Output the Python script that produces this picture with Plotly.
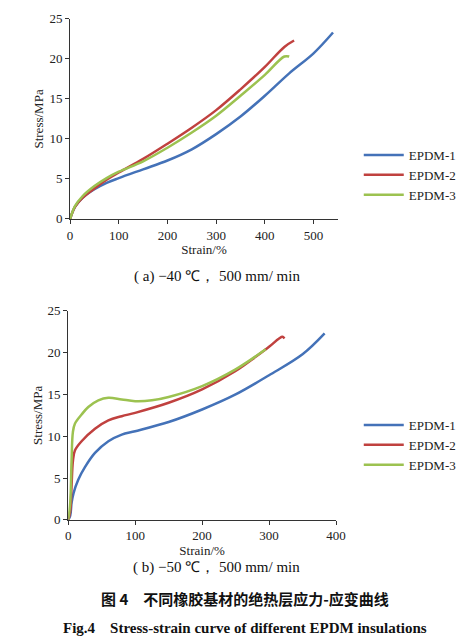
import plotly.graph_objects as go

names = ["EPDM-1", "EPDM-2", "EPDM-3"]
colors = ["#4472b8", "#c0413f", "#9cc250"]

a_x = [
    [0, 10, 25, 50, 75, 100, 150, 200, 250, 300, 350, 400, 450, 500, 540],
    [0, 10, 25, 50, 75, 100, 150, 200, 250, 300, 350, 400, 440, 460],
    [0, 10, 25, 50, 75, 100, 150, 200, 250, 300, 350, 400, 440, 450],
]
a_y = [
    [0, 1.5, 2.6, 3.7, 4.5, 5.1, 6.2, 7.3, 8.7, 10.6, 12.8, 15.4, 18.2, 20.7, 23.3],
    [0, 1.5, 2.6, 3.8, 4.9, 5.8, 7.5, 9.4, 11.4, 13.6, 16.2, 19.0, 21.5, 22.3],
    [0, 1.6, 2.8, 4.1, 5.1, 5.9, 7.2, 8.9, 10.8, 12.9, 15.4, 18.0, 20.3, 20.3],
]
b_x = [
    [0, 3, 5, 8, 15, 25, 40, 60, 80, 100, 150, 200, 250, 300, 350, 383],
    [0, 3, 5, 7, 10, 20, 40, 60, 80, 100, 150, 200, 250, 280, 300, 315, 320, 323],
    [0, 3, 5, 7, 10, 20, 30, 45, 60, 80, 100, 125, 150, 200, 250, 295],
]
b_y = [
    [0, 0.5, 2, 3.2, 4.8, 6.3, 8, 9.4, 10.2, 10.6, 11.7, 13.2, 15, 17.3, 19.8, 22.3],
    [0, 1, 4, 7, 8.3, 9.4, 10.9, 11.9, 12.4, 12.8, 14.0, 15.6, 17.8, 19.5, 20.7, 21.7, 21.9, 21.7],
    [0, 2, 7, 10.5, 11.5, 12.6, 13.5, 14.3, 14.6, 14.4, 14.2, 14.3, 14.7, 16.0, 18.0, 20.4],
]

F = "Liberation Serif"
fig = go.Figure()
for i in range(3):
    fig.add_trace(go.Scatter(x=a_x[i], y=a_y[i], name=names[i], mode="lines", line=dict(color=colors[i], width=2.5, shape="spline"), xaxis="x", yaxis="y", legend="legend"))
for i in range(3):
    fig.add_trace(go.Scatter(x=b_x[i], y=b_y[i], name=names[i], mode="lines", line=dict(color=colors[i], width=2.5, shape="spline"), xaxis="x2", yaxis="y2", legend="legend2"))

ax = dict(showgrid=False, zeroline=False, showline=True, linecolor="#333", ticks="outside", ticklen=4, tickcolor="#333", automargin=False, tickfont=dict(size=13, family=F, color="#222"), title_standoff=2, title_font=dict(size=13, family=F, color="#222"))
leg = dict(font=dict(size=13, family=F, color="#222"), bgcolor="rgba(0,0,0,0)", itemwidth=40, tracegroupgap=4, xanchor="left", yanchor="top")

fig.update_layout(
    width=474, height=643, margin=dict(l=0, r=0, t=0, b=0),
    paper_bgcolor="white", plot_bgcolor="white", showlegend=True,
    xaxis=dict(ax, domain=[0.131, 0.696], range=[0, 550], tickvals=[0, 100, 200, 300, 400, 500], title_text="Strain/%", anchor="y"),
    yaxis=dict(ax, domain=[0.672, 0.983], range=[0, 25], dtick=5, title_text="Stress/MPa", anchor="x"),
    xaxis2=dict(ax, domain=[0.127, 0.692], range=[0, 400], dtick=100, title_text="Strain/%", anchor="y2"),
    yaxis2=dict(ax, domain=[0.204, 0.529], range=[0, 25], dtick=5, title_text="Stress/MPa", anchor="x2"),
    legend=dict(leg, x=0.74, y=1 - 132 / 643),
    legend2=dict(leg, x=0.74, y=1 - 402 / 643),
    annotations=[
        dict(text="( a) −40 ℃， 500 mm/ min", x=0.44, y=1 - 268 / 643, xref="paper", yref="paper", showarrow=False, font=dict(size=15, family=F, color="#111")),
        dict(text="( b) −50 ℃， 500 mm/ min", x=0.44, y=1 - 570 / 643, xref="paper", yref="paper", showarrow=False, font=dict(size=15, family=F, color="#111")),
        dict(text="<b>图 4　不同橡胶基材的绝热层应力-应变曲线</b>", x=0.5, y=1 - 603 / 643, xref="paper", yref="paper", showarrow=False, font=dict(size=15, family="Noto Sans CJK SC", color="#111")),
        dict(text="<b>Fig.4　Stress-strain curve of different EPDM insulations</b>", x=0.5, y=1 - 630 / 643, xref="paper", yref="paper", showarrow=False, font=dict(size=15, family=F, color="#111")),
    ],
)
fig.write_html("out.html")
